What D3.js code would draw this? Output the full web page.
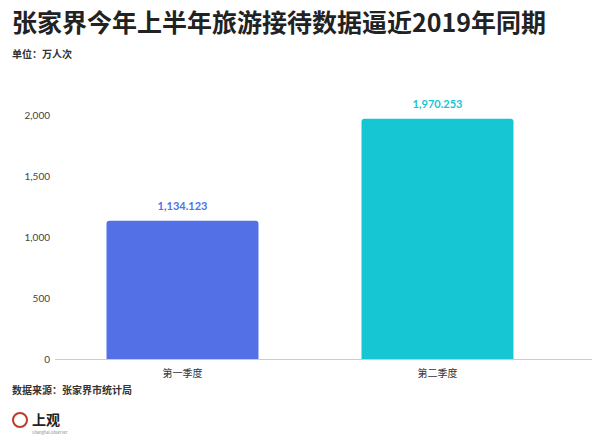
<!DOCTYPE html><html><head><meta charset="utf-8">
<script src="https://cdn.jsdelivr.net/npm/d3@7"></script>
<style>body{margin:0;background:#fff}text{font-family:"Noto Sans CJK SC","Noto Sans",sans-serif}</style></head><body>
<svg id="c" width="600" height="444"></svg>
<script>
const categories=["第一季度","第二季度"];
const values=[1134.123,1970.253];
const labels=["1,134.123","1,970.253"];
const colors=["#5470e6","#16c6d2"];
const ticks=[0,500,1000,1500,2000];
const svg=d3.select("#c");
const x=d3.scaleBand().domain(categories).range([55,565]).paddingInner(0.404).paddingOuter(0.202);
const y=d3.scaleLinear().domain([0,2000]).range([359,115]);
svg.append("text").attr("x",12).attr("y",32).attr("font-size",25).attr("font-weight",700).attr("fill","#222").text("张家界今年上半年旅游接待数据逼近2019年同期");
svg.append("text").attr("x",12).attr("y",58).attr("font-size",10).attr("font-weight",700).attr("fill","#333").text("单位：万人次");
const ya=svg.append("g").attr("transform","translate(55,0)").call(d3.axisLeft(y).tickValues(ticks).tickSize(0).tickPadding(5).tickFormat(d3.format(",")));
ya.select(".domain").remove();
ya.selectAll("text").attr("font-size",10).attr("fill","#444").style("font-family","Lato,sans-serif");
svg.append("line").attr("x1",55).attr("x2",592).attr("y1",359.5).attr("y2",359.5).attr("stroke","#ccc");
categories.forEach((c,i)=>{
  const x0=x(c),w=x.bandwidth(),y0=y(values[i]),h=y(0)-y0,r=3;
  svg.append("path").attr("fill",colors[i]).attr("d",`M${x0},${y(0)}V${y0+r}Q${x0},${y0} ${x0+r},${y0}H${x0+w-r}Q${x0+w},${y0} ${x0+w},${y0+r}V${y(0)}Z`);
  svg.append("text").attr("x",x0+w/2).attr("y",y0-11).attr("text-anchor","middle").attr("font-size",11).attr("font-weight",700).attr("fill",colors[i]).style("font-family","Lato,sans-serif").text(labels[i]);
  svg.append("text").attr("x",x0+w/2).attr("y",377).attr("text-anchor","middle").attr("font-size",10).attr("fill","#333").text(c);
});
svg.append("text").attr("x",12).attr("y",394).attr("font-size",10).attr("font-weight",700).attr("fill","#333").text("数据来源：张家界市统计局");
svg.append("circle").attr("cx",20).attr("cy",420).attr("r",7).attr("fill","none").attr("stroke","#c0392b").attr("stroke-width",2);
svg.append("text").attr("x",32).attr("y",425).attr("font-size",14).attr("font-weight",700).attr("fill","#222").text("上观");
svg.append("text").attr("x",32).attr("y",434).attr("font-size",4).attr("fill","#888").text("Shanghai Observer");
</script></body></html>
